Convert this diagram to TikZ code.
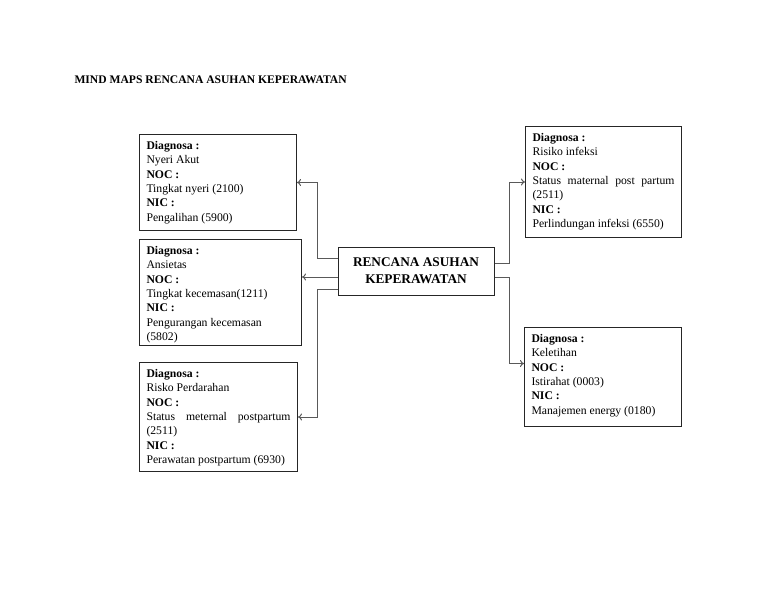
\documentclass[tikz,border=0pt]{standalone}
\usepackage{fontspec}
\setmainfont{Liberation Serif}
\usetikzlibrary{arrows.meta}
\tikzset{
  diagnosa/.style={draw=black!85,line width=1pt,shape=rectangle,anchor=north west,
    inner xsep=7pt,inner ysep=7pt,font=\fontsize{11.7}{14.3}\selectfont},
  pusat/.style={draw=black!85,line width=1pt,shape=rectangle,minimum width=156pt,
    minimum height=48pt,align=center,font=\fontsize{13.3}{17}\selectfont\bfseries},
  link/.style={-{To[length=4pt,width=7pt]},draw=black!65,line width=1pt}
}
\newcommand{\isibox}[3]{\parbox[c][#1][t]{#2}{#3}}
\begin{document}
\begin{tikzpicture}[x=1pt,y=-1pt]
  \useasboundingbox (0,0) rectangle (768,594);

  \draw (71,80) node [anchor=west,font=\fontsize{11.6}{14}\selectfont\bfseries] (judul)
  {MIND MAPS RENCANA ASUHAN KEPERAWATAN};

  \draw (416,271) node [pusat] (rencana)
  {RENCANA ASUHAN\\KEPERAWATAN};

  \draw (139,134) node [diagnosa] (nyeri)
  {\isibox{82pt}{143pt}{\textbf{Diagnosa :}\\Nyeri Akut\\\textbf{NOC :}\\Tingkat nyeri (2100)\\\textbf{NIC :}\\Pengalihan (5900)}};

  \draw (139,239) node [diagnosa] (ansietas)
  {\isibox{92pt}{148pt}{\textbf{Diagnosa :}\\Ansietas\\\textbf{NOC :}\\Tingkat kecemasan(1211)\\\textbf{NIC :}\\Pengurangan kecemasan\\(5802)}};

  \draw (139,362) node [diagnosa] (perdarahan)
  {\isibox{95pt}{144pt}{\textbf{Diagnosa :}\\Risko Perdarahan\\\textbf{NOC :}\\Status meternal postpartum\linebreak (2511)\\\textbf{NIC :}\\Perawatan postpartum (6930)}};

  \draw (525,126) node [diagnosa] (infeksi)
  {\isibox{97pt}{142pt}{\textbf{Diagnosa :}\\Risiko infeksi\\\textbf{NOC :}\\Status maternal post partum\linebreak (2511)\\\textbf{NIC :}\\Perlindungan infeksi (6550)}};

  \draw (524,327) node [diagnosa] (keletihan)
  {\isibox{85pt}{143pt}{\textbf{Diagnosa :}\\Keletihan\\\textbf{NOC :}\\Istirahat (0003)\\\textbf{NIC :}\\Manajemen energy (0180)}};

  \draw[link] ([yshift=13pt]rencana.west) -| ([xshift=20pt]nyeri.east) -- (nyeri.east);
  \draw[link] ([yshift=-6pt]rencana.west) coordinate (kiri) -- (kiri -| ansietas.east);
  \draw[link] ([yshift=-18pt]rencana.west) -| ([xshift=19pt]perdarahan.east) -- (perdarahan.east);
  \draw[link] ([yshift=8pt]rencana.east) -| ([xshift=-16pt]infeksi.west) -- (infeksi.west);
  \draw[link] ([yshift=-6pt]rencana.east) -| ([xshift=-15pt,yshift=13.5pt]keletihan.west) -- ([yshift=13.5pt]keletihan.west);

\end{tikzpicture}
\end{document}
